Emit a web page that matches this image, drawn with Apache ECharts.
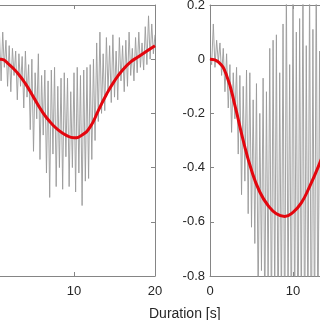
<!DOCTYPE html>
<html>
<head>
<meta charset="utf-8">
<script src="https://cdn.jsdelivr.net/npm/echarts@6/dist/echarts.min.js"></script>
<style>
html,body{margin:0;padding:0;background:#fff;}
#chart{width:320px;height:320px;}
</style>
</head>
<body>
<div id="chart"></div>
<script>
// tick labels
var xTicks=[0,10,20];
var yTicks=[-0.8,-0.6,-0.4,-0.2,0,0.2];
var axisTitle='Duration [s]';

// raw signal, one sample every 0.2 s
var greyStep=0.2;
var leftGrey=[0.02,-0.05,0.07,-0.04,0.09,-0.08,0.10,-0.03,0.07,-0.10,
    0.05,-0.12,0.04,-0.06,0.03,-0.15,0.02,-0.10,0.01,-0.18,
    0.03,-0.14,-0.02,-0.26,0.00,-0.34,-0.05,-0.22,0.02,-0.37,
    -0.06,-0.28,-0.04,-0.42,-0.08,-0.51,-0.04,-0.35,-0.03,-0.47,
    -0.10,-0.40,-0.07,-0.48,-0.05,-0.36,-0.07,-0.47,-0.12,-0.40,
    -0.05,-0.49,-0.03,-0.42,-0.06,-0.54,-0.04,-0.45,-0.03,-0.44,
    -0.02,-0.37,0.00,-0.30,0.06,-0.23,0.10,-0.20,0.02,-0.19,
    0.08,-0.12,0.05,-0.16,0.09,-0.14,0.03,-0.15,0.08,-0.08,
    0.05,-0.12,0.07,-0.10,0.10,-0.06,0.04,-0.08,0.08,-0.05,
    0.10,-0.03,0.06,-0.04,0.12,-0.02,0.16,0.00,0.13,0.02,
    0.09];
var rightGrey=[0.00,-0.02,0.13,-0.03,0.07,-0.01,0.06,-0.06,0.04,-0.12,
    0.02,-0.18,-0.02,-0.27,-0.05,-0.22,-0.03,-0.35,-0.06,-0.50,
    -0.10,-0.45,-0.04,-0.57,-0.05,-0.62,-0.15,-0.68,-0.09,-0.90,
    -0.20,-0.78,-0.07,-0.95,-0.12,-0.85,0.04,-1.00,0.07,-0.90,
    0.09,-1.05,-0.05,-0.95,0.13,-1.10,0.28,-0.92,-0.02,-1.05,
    0.30,-1.00,0.10,-1.15,0.15,-0.98,0.32,-1.10,0.05,-1.02,
    0.30,-1.20,0.11,-1.05,0.35,-1.10,0.03,-1.15,0.25,-1.08,
    0.20];

// smoothed trend
var leftRedT=[0,1,2,3,4,5,6,7,8,9,10,11,12,13,14,15,16,17,18,19,20];
var leftRed=[0,0,-0.02,-0.05,-0.09,-0.14,-0.19,-0.23,-0.26,-0.28,-0.29,-0.28,-0.25,-0.19,-0.13,-0.08,-0.04,-0.01,0.01,0.03,0.05];
var rightRedT=[0,1,2,3,4,5,6,7,8,9,10,11,12,13,14];
var rightRed=[0,-0.01,-0.06,-0.17,-0.3,-0.41,-0.49,-0.54,-0.57,-0.58,-0.565,-0.53,-0.47,-0.4,-0.32];

var durationChart=(function(){
    var axisColor='#858585';
    var textColor='#262626';
    var greyColor='#9a9a9a';
    var redColor='#e3060e';
    var font='Liberation Sans';

    function pairs(xs,ys){
        var out=[];
        for(var i=0;i<ys.length;i++){
            out.push([xs[i],ys[i]]);
        }
        return out;
    }
    function stepped(ys){
        var out=[];
        for(var i=0;i<ys.length;i++){
            out.push([+(i*greyStep).toFixed(2),ys[i]]);
        }
        return out;
    }
    function xAxisFor(grid,pos,labels){
        return {
            type:'value',gridIndex:grid,position:pos,
            min:xTicks[0],max:xTicks[xTicks.length-1],interval:xTicks[1]-xTicks[0],
            axisLine:{show:true,onZero:false,lineStyle:{color:axisColor,width:1}},
            axisTick:{show:true,inside:true,length:4,lineStyle:{color:axisColor}},
            axisLabel:{show:labels,color:textColor,fontSize:13,fontFamily:font,margin:9},
            splitLine:{show:false}
        };
    }
    function yAxisFor(grid,pos,labels){
        return {
            type:'value',gridIndex:grid,position:pos,
            min:yTicks[0],max:yTicks[yTicks.length-1],interval:yTicks[1]-yTicks[0],
            axisLine:{show:true,onZero:false,lineStyle:{color:axisColor,width:1}},
            axisTick:{show:true,inside:true,length:4,lineStyle:{color:axisColor}},
            axisLabel:{show:labels,color:textColor,fontSize:13,fontFamily:font,margin:5,
                formatter:function(v){return String(Math.round(v*10)/10);}},
            splitLine:{show:false}
        };
    }
    function line(x,y,data,color,width,smooth,z){
        return {
            type:'line',xAxisIndex:x,yAxisIndex:y,data:data,
            showSymbol:false,symbol:'none',smooth:smooth,clip:true,z:z,
            lineStyle:{color:color,width:width},
            animation:false
        };
    }

    return {
        init:function(){
            var chart=echarts.init(document.getElementById('chart'),null,{renderer:'canvas'});
            var option={
                animation:false,
                backgroundColor:'#fff',
                title:{
                    text:axisTitle,left:144,top:302,
                    textStyle:{color:textColor,fontSize:14,fontWeight:'normal',fontFamily:font}
                },
                grid:[
                    {left:-7,right:165,top:5,bottom:44,containLabel:false,outerBoundsMode:'none'},
                    {left:210,right:-56,top:5,bottom:44,containLabel:false,outerBoundsMode:'none'}
                ],
                xAxis:[
                    xAxisFor(0,'bottom',true),xAxisFor(0,'top',false),
                    xAxisFor(1,'bottom',true),xAxisFor(1,'top',false)
                ],
                yAxis:[
                    yAxisFor(0,'left',true),yAxisFor(0,'right',false),
                    yAxisFor(1,'left',true),yAxisFor(1,'right',false)
                ],
                series:[
                    line(0,0,stepped(leftGrey),greyColor,0.9,false,2),
                    line(0,0,pairs(leftRedT,leftRed),redColor,3,true,3),
                    line(2,2,stepped(rightGrey),greyColor,0.9,false,2),
                    line(2,2,pairs(rightRedT,rightRed),redColor,3,true,3)
                ]
            };
            chart.setOption(option);
        }
    }
})();

durationChart.init();
</script>
</body>
</html>
